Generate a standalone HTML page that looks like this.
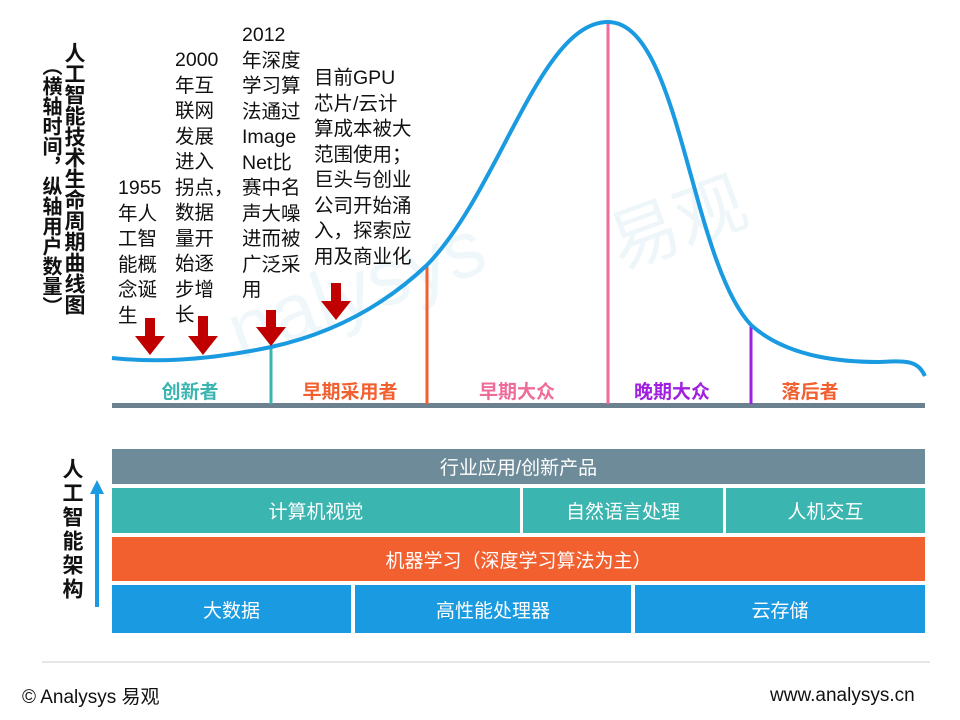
<!DOCTYPE html>
<html><head><meta charset="utf-8"><style>
body{margin:0;width:960px;height:720px;background:#fff;position:relative;overflow:hidden;font-family:"Liberation Sans","Noto Sans CJK SC",sans-serif}
.t{position:absolute;font-size:19.5px;line-height:25.5px;color:#111}
.blk{position:absolute;color:#fff;font-size:19px;display:flex;align-items:center;justify-content:center}
.vt{position:absolute;writing-mode:vertical-rl;text-orientation:upright;font-weight:bold;color:#111}
</style></head><body>
<svg width="960" height="720" style="position:absolute;left:0;top:0">
<text x="620" y="270" font-size="70" fill="#eef6fa" font-family="Liberation Sans,Noto Sans CJK SC,sans-serif" transform="rotate(-20 620 270)">易观</text>
<text x="240" y="360" font-size="80" fill="#f0f7fb" font-family="Liberation Sans,sans-serif" transform="rotate(-20 240 360)">nalysys</text>
<rect x="112" y="403" width="813" height="5" fill="#6b8190"/>
<line x1="271" y1="347" x2="271" y2="404" stroke="#3ab5b0" stroke-width="3"/>
<line x1="427" y1="265" x2="427" y2="404" stroke="#f26030" stroke-width="3"/>
<line x1="608" y1="22" x2="608" y2="404" stroke="#ef6b9a" stroke-width="3"/>
<line x1="751" y1="325" x2="751" y2="404" stroke="#a020e0" stroke-width="3"/>
<path d="M112,358 C150,362 200,362 271,347 C340,332 390,300 427,265 C500,190 540,22 608,22 C680,22 690,260 751,325 C790,360 850,362 880,362 C910,360 918,362 925,376" fill="none" stroke="#1a9ae0" stroke-width="4"/>
<g fill="#c00000">
<path d="M145,318h10v18h10l-15,19l-15,-19h10z"/>
<path d="M198,316h10v20h10l-15,19l-15,-19h10z"/>
<path d="M266,310h10v17h10l-15,19l-15,-19h10z"/>
<path d="M331,283h10v18h10l-15,19l-15,-19h10z"/>
</g>
<g font-size="19" font-weight="bold" text-anchor="middle" font-family="Liberation Sans,Noto Sans CJK SC,sans-serif">
<text x="190" y="398" fill="#3ab5b0">创新者</text>
<text x="350" y="398" fill="#f26030">早期采用者</text>
<text x="517" y="398" fill="#ef6b9a">早期大众</text>
<text x="672" y="398" fill="#a020e0">晚期大众</text>
<text x="810" y="398" fill="#f26030">落后者</text>
</g>
<path d="M97,480l-7,14h5v113h4v-113h5z" fill="#1a9ae0"/>
<line x1="42" y1="662" x2="930" y2="662" stroke="#ccc" stroke-width="1"/>
</svg>
<div class="vt" style="left:61px;top:42px;font-size:21px;line-height:24px">人工智能技术生命周期曲线图</div>
<div class="vt" style="left:39px;top:56px;font-size:20px;line-height:22px">（横轴时间，纵轴用户数量）</div>
<div class="vt" style="left:59px;top:458px;font-size:21px;line-height:24px;letter-spacing:3px">人工智能架构</div>
<div class="t" style="left:118px;top:176px">1955<br>年人<br>工智<br>能概<br>念诞<br>生</div>
<div class="t" style="left:175px;top:48px">2000<br>年互<br>联网<br>发展<br>进入<br>拐点，<br>数据<br>量开<br>始逐<br>步增<br>长</div>
<div class="t" style="left:242px;top:23px">2012<br>年深度<br>学习算<br>法通过<br>Image<br>Net比<br>赛中名<br>声大噪<br>进而被<br>广泛采<br>用</div>
<div class="t" style="left:314px;top:66px">目前GPU<br>芯片/云计<br>算成本被大<br>范围使用；<br>巨头与创业<br>公司开始涌<br>入，探索应<br>用及商业化</div>
<div class="blk" style="left:112px;top:449px;width:813px;height:35px;background:#6e8b99">行业应用/创新产品</div>
<div class="blk" style="left:112px;top:488px;width:408px;height:45px;background:#3ab5b0">计算机视觉</div>
<div class="blk" style="left:523px;top:488px;width:200px;height:45px;background:#3ab5b0">自然语言处理</div>
<div class="blk" style="left:726px;top:488px;width:199px;height:45px;background:#3ab5b0">人机交互</div>
<div class="blk" style="left:112px;top:537px;width:813px;height:44px;background:#f26030">机器学习（深度学习算法为主）</div>
<div class="blk" style="left:112px;top:585px;width:239px;height:48px;background:#1a9ae0">大数据</div>
<div class="blk" style="left:355px;top:585px;width:276px;height:48px;background:#1a9ae0">高性能处理器</div>
<div class="blk" style="left:635px;top:585px;width:290px;height:48px;background:#1a9ae0">云存储</div>
<div class="t" style="left:22px;top:685px;font-size:19px">© Analysys 易观</div>
<div class="t" style="left:770px;top:683px;font-size:19px">www.analysys.cn</div>
</body></html>
